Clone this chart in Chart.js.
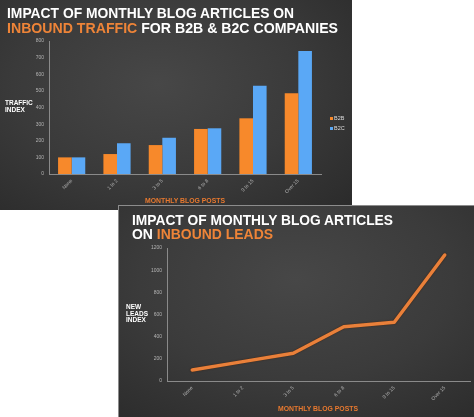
<!DOCTYPE html>
<html><head><meta charset="utf-8">
<script src="https://cdn.jsdelivr.net/npm/chart.js@4/dist/chart.umd.min.js"></script>
<style>
html,body{margin:0;padding:0;background:#fff;width:474px;height:417px;overflow:hidden;font-family:'Liberation Sans',Arial,sans-serif}
.panel{position:absolute;overflow:hidden}
#p1{left:0;top:0;width:352px;height:210px;background:radial-gradient(ellipse 75% 85% at 45% 40%,#474747 0%,#3a3a3a 55%,#2b2b2b 100%)}
#p2{left:118px;top:205px;width:356px;height:212px;background:radial-gradient(ellipse 80% 85% at 50% 35%,#474747 0%,#3b3b3b 55%,#2c2c2c 100%);box-shadow:inset 1px 1px 0 #8c8c8c}
.t{position:absolute;white-space:nowrap;color:#fff;font-weight:bold;transform-origin:0 0;line-height:1;font-family:'Liberation Sans',Arial,sans-serif}
.or{color:#ee8438}
.ax{position:absolute;white-space:nowrap;color:#fff;font-weight:bold;font-size:6.5px;line-height:6.6px;font-family:'Liberation Sans',Arial,sans-serif}
.xt{position:absolute;white-space:nowrap;color:#e8792f;font-weight:bold;font-size:8px;line-height:1;transform-origin:0 0}
.lg{position:absolute;font-size:5.5px;color:#ddd;line-height:1;white-space:nowrap}
.lg i{display:inline-block;width:3px;height:3px;margin-right:1.5px;vertical-align:middle}
canvas{position:absolute;left:0;top:0}
</style></head>
<body>
<div id="p1" class="panel">
  <canvas id="c1" width="352" height="210" style="width:352px;height:210px"></canvas>
  <div id="t1a" class="t" style="left:7px;top:5px;font-size:15.4px">IMPACT OF MONTHLY BLOG ARTICLES ON</div>
  <div id="t1b" class="t" style="left:7px;top:20px;font-size:15.4px"><span class="or">INBOUND TRAFFIC</span> FOR B2B &amp; B2C COMPANIES</div>
  <div class="ax" style="left:5px;top:100px">TRAFFIC<br>INDEX</div>
  <div id="x1" class="xt" style="left:145px;top:197px">MONTHLY BLOG POSTS</div>
  <div class="lg" style="left:329.5px;top:116px"><i style="background:#f7892b"></i>B2B</div>
  <div class="lg" style="left:329.5px;top:126px"><i style="background:#5aa8f6"></i>B2C</div>
</div>
<div id="p2" class="panel">
  <canvas id="c2" width="356" height="212" style="width:356px;height:212px"></canvas>
  <div id="t2a" class="t" style="left:14px;top:8px;font-size:14px">IMPACT OF MONTHLY BLOG ARTICLES</div>
  <div id="t2b" class="t" style="left:14px;top:22px;font-size:14px">ON <span class="or">INBOUND LEADS</span></div>
  <div class="ax" style="left:8px;top:99px">NEW<br>LEADS<br>INDEX</div>
  <div id="x2" class="xt" style="left:160px;top:200px">MONTHLY BLOG POSTS</div>
</div>
<script>
const categories = ['None','1 to 2','3 to 5','6 to 8','9 to 15','Over 15'];
const trafficB2B = [100,120,174,271,335,485];
const trafficB2C = [100,185,218,275,531,740];
const leadsIndex = [100,175,250,490,530,1137];
const trafficTicks = [0,100,200,300,400,500,600,700,800];
const leadsTicks = [0,200,400,600,800,1000,1200];

function fit(id,w){const el=document.getElementById(id);const r=el.getBoundingClientRect().width;el.style.transform='scaleX('+(w/r)+')';}
fit('t1a',287);fit('t1b',331);fit('t2a',261);fit('t2b',141);fit('x1',80);fit('x2',80);

const tickFont={family:'Liberation Sans',size:5};
function yAxis(ticks,w){return{min:ticks[0],max:ticks[ticks.length-1],afterFit:s=>{s.width=w;},
  afterBuildTicks:s=>{s.ticks=ticks.map(v=>({value:v}));},
  grid:{display:false,drawTicks:false},border:{display:true,color:'#8a8a8a',width:1},
  ticks:{color:'#b5b5b5',font:tickFont,padding:5,callback:v=>String(v)}};}
function xAxis(h){return{afterFit:s=>{s.height=h;},grid:{display:false,drawTicks:false},
  border:{display:true,color:'#8a8a8a',width:1},
  ticks:{color:'#b5b5b5',font:tickFont,padding:4,minRotation:45,maxRotation:45,autoSkip:false}};}

const lineShadow={id:'lineShadow',
  beforeDatasetsDraw(c){c.ctx.save();c.ctx.shadowColor='rgba(60,25,5,0.9)';c.ctx.shadowBlur=1.5;},
  afterDatasetsDraw(c){c.ctx.restore();}};

new Chart(document.getElementById('c1'),{type:'bar',
  data:{labels:categories,datasets:[
    {label:'B2B',data:trafficB2B,backgroundColor:'#f7892b',categoryPercentage:0.6,barPercentage:1.0},
    {label:'B2C',data:trafficB2C,backgroundColor:'#5aa8f6',categoryPercentage:0.6,barPercentage:1.0}]},
  options:{responsive:false,animation:false,devicePixelRatio:1,
    layout:{padding:{left:0,top:41,right:31,bottom:0}},
    plugins:{legend:{display:false},tooltip:{enabled:false}},
    scales:{x:xAxis(36),y:yAxis(trafficTicks,49)}}});

new Chart(document.getElementById('c2'),{type:'line',
  plugins:[lineShadow],
  data:{labels:categories,datasets:[
    {label:'New leads index',data:leadsIndex,borderColor:'#e9803a',borderWidth:3.5,pointRadius:0,tension:0,fill:false,borderJoinStyle:'round',borderCapStyle:'round'}]},
  options:{responsive:false,animation:false,devicePixelRatio:1,
    layout:{padding:{left:0,top:43,right:4,bottom:0}},
    plugins:{legend:{display:false},tooltip:{enabled:false}},
    scales:{x:Object.assign(xAxis(36),{offset:true}),y:yAxis(leadsTicks,49)}}});
</script>
</body></html>
